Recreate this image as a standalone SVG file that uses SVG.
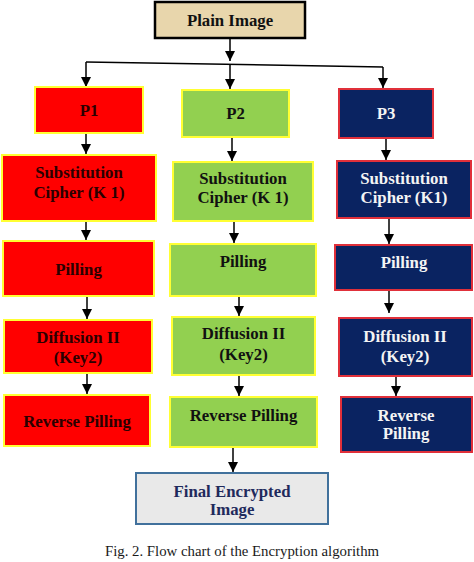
<svg xmlns="http://www.w3.org/2000/svg" width="474" height="562" viewBox="0 0 474 562">
<defs>
<marker id="ah" markerUnits="userSpaceOnUse" markerWidth="11" markerHeight="11" refX="10" refY="5" orient="auto">
<path d="M0,0 L10,5 L0,10 z" fill="#000"/>
</marker>
</defs>
<style>
text{font-family:"Liberation Serif","Times New Roman",serif;font-weight:bold;font-size:16.8px;text-anchor:middle}
.red rect{fill:#FF0000;stroke:#FFFF33;stroke-width:2}
.red text{fill:#2A0000}
.grn rect{fill:#92D050;stroke:#FFFF33;stroke-width:2}
.grn text{fill:#111111}
.nav rect{fill:#0A2361;stroke:#E0303A;stroke-width:2}
.nav text{fill:#F4F4F4}
.conn path,.conn line{stroke:#000;stroke-width:1.5;fill:none}
.arr{marker-end:url(#ah)}
.cap{font-weight:normal;font-size:14.8px;fill:#1a1a1a}
</style>
<rect width="474" height="562" fill="#fff"/>

<g class="conn">
<line class="arr" x1="230" y1="38" x2="230" y2="61"/>
<path d="M86,62 L383,67"/>
<line class="arr" x1="86" y1="62" x2="86" y2="87"/>
<line class="arr" x1="230" y1="64" x2="230" y2="89"/>
<line class="arr" x1="383" y1="67" x2="383" y2="88"/>
<line class="arr" x1="86" y1="133" x2="86" y2="154"/>
<line class="arr" x1="232" y1="137" x2="232" y2="161"/>
<line class="arr" x1="386" y1="138" x2="386" y2="160"/>
<line class="arr" x1="86" y1="221" x2="86" y2="240"/>
<line class="arr" x1="234" y1="221" x2="234" y2="243"/>
<line class="arr" x1="389" y1="218" x2="389" y2="244"/>
<line class="arr" x1="87" y1="296" x2="87" y2="319"/>
<line class="arr" x1="239" y1="296" x2="239" y2="316"/>
<line class="arr" x1="389" y1="290" x2="389" y2="313"/>
<line class="arr" x1="87" y1="373" x2="87" y2="394"/>
<line class="arr" x1="239" y1="375" x2="239" y2="396"/>
<line class="arr" x1="396" y1="376" x2="396" y2="396"/>
<line class="arr" x1="233" y1="448" x2="233" y2="472"/>
</g>

<g id="plain">
<rect x="155" y="2" width="150" height="36" fill="#E8D6AC" stroke="#000" stroke-width="2.5"/>
<text x="230" y="26" fill="#111">Plain Image</text>
</g>

<g id="p1" class="red"><rect x="35" y="87" width="108" height="46"/><text x="89" y="116">P1</text></g>
<g id="p2" class="grn"><rect x="182" y="90" width="107" height="47"/><text x="235.5" y="119">P2</text></g>
<g id="p3" class="nav"><rect x="339" y="89" width="94" height="49"/><text x="386" y="119">P3</text></g>

<g id="sub1" class="red"><rect x="2" y="155" width="154" height="66"/><text x="79" y="178">Substitution</text><text x="79" y="198">Cipher (K 1)</text></g>
<g id="sub2" class="grn"><rect x="173" y="162" width="140" height="59"/><text x="243" y="184">Substitution</text><text x="243" y="203">Cipher (K 1)</text></g>
<g id="sub3" class="nav"><rect x="337" y="161" width="134" height="57"/><text x="404" y="184">Substitution</text><text x="404" y="203">Cipher (K1)</text></g>

<g id="pil1" class="red"><rect x="3" y="241" width="151" height="55"/><text x="78.5" y="275">Pilling</text></g>
<g id="pil2" class="grn"><rect x="170" y="244" width="146" height="52"/><text x="243" y="267">Pilling</text></g>
<g id="pil3" class="nav"><rect x="335" y="245" width="137" height="45"/><text x="404" y="268">Pilling</text></g>

<g id="dif1" class="red"><rect x="4" y="320" width="148" height="53"/><text x="78" y="343">Diffusion II</text><text x="78" y="363">(Key2)</text></g>
<g id="dif2" class="grn"><rect x="172" y="317" width="143" height="58"/><text x="243.5" y="339">Diffusion II</text><text x="243.5" y="360">(Key2)</text></g>
<g id="dif3" class="nav"><rect x="339" y="318" width="133" height="58"/><text x="405" y="342">Diffusion II</text><text x="405" y="362">(Key2)</text></g>

<g id="rev1" class="red"><rect x="4" y="395" width="146" height="51"/><text x="77" y="427">Reverse Pilling</text></g>
<g id="rev2" class="grn"><rect x="170" y="397" width="147" height="50"/><text x="243.5" y="421">Reverse Pilling</text></g>
<g id="rev3" class="nav"><rect x="341" y="397" width="131" height="55"/><text x="406" y="421">Reverse</text><text x="406" y="439">Pilling</text></g>

<g id="final">
<rect x="136" y="473" width="192" height="51" fill="#E9E9E9" stroke="#41719C" stroke-width="2"/>
<text x="232" y="497" fill="#1F2A5C">Final Encrypted</text>
<text x="232" y="515" fill="#1F2A5C">Image</text>
</g>

<text class="cap" x="242" y="556">Fig. 2. Flow chart of the Encryption algorithm</text>
</svg>
